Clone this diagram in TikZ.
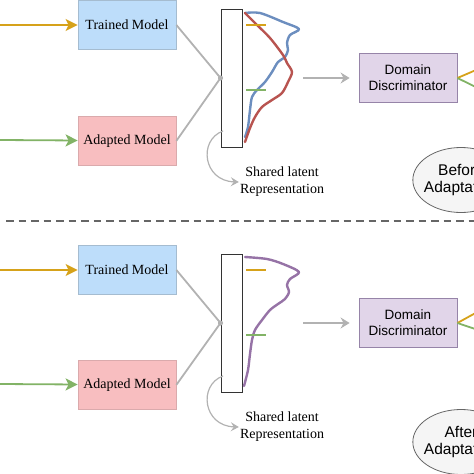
\documentclass[tikz,border=0pt]{standalone}
\usepackage{fontspec}
\setmainfont{Liberation Serif}
\setsansfont{Liberation Sans}
\usepackage{tikz}
\usetikzlibrary{arrows.meta,positioning,shapes.geometric,calc}
\definecolor{trainfill}{RGB}{189,221,250}
\definecolor{trainline}{RGB}{165,188,208}
\definecolor{adaptfill}{RGB}{248,190,192}
\definecolor{adaptline}{RGB}{218,170,172}
\definecolor{discfill}{RGB}{225,213,233}
\definecolor{discline}{RGB}{150,132,168}
\definecolor{inyellow}{RGB}{214,162,26}
\definecolor{ingreen}{RGB}{130,179,102}
\definecolor{curveblue}{RGB}{108,142,191}
\definecolor{curvered}{RGB}{184,84,80}
\definecolor{curvepurple}{RGB}{150,115,166}
\definecolor{linkgray}{RGB}{178,178,178}
\definecolor{dashgray}{RGB}{102,102,102}

\begin{document}
\begin{tikzpicture}[
  x=1pt, y=-1pt,
  font=\fontsize{14}{17}\selectfont,
  model/.style={draw, line width=0.8pt, minimum width=98pt, minimum height=49pt, inner sep=1pt},
  latent/.style={draw=black!80, line width=1pt, fill=white, minimum width=21pt, minimum height=138pt, inner sep=0pt},
  disc/.style={draw=discline, fill=discfill, line width=0.8pt, align=center, minimum width=98pt,
               minimum height=49pt, font=\sffamily\fontsize{13.5}{16}\selectfont},
  phase/.style={ellipse, draw=dashgray, fill=black!4, line width=0.8pt, align=center, inner ysep=0pt,
                inner xsep=-3pt, minimum width=96pt, minimum height=65pt,
                font=\sffamily\fontsize{15.5}{17}\selectfont},
  note/.style={align=center, inner sep=1pt},
  feed/.style={line width=1.8pt, -{Stealth[length=12pt, width=12pt, inset=3pt]}},
  merge/.style={line width=1.8pt, draw=linkgray},
  link/.style={line width=1.8pt, draw=linkgray, shorten >=9pt, -{Stealth[length=9pt, width=11pt, inset=3pt]}},
  curv/.style={line width=1.2pt, draw=linkgray, -{Stealth[length=8pt, width=9pt, inset=3pt]}},
  trace/.style={line width=2.4pt, line cap=round, line join=round},
  tick/.style={line width=1.8pt},
  divider/.style={line width=2.4pt, draw=dashgray, dash pattern=on 7.5pt off 5pt},
  ]
  \useasboundingbox (0,0) rectangle (474,474);
  \clip (0,0) rectangle (474,474);

  % before adaptation
  \node[model, fill=trainfill, draw=trainline] (tm1) at (127,25) {Trained Model};
  \node[model, fill=adaptfill, draw=adaptline, below=66pt of tm1] (am1) {Adapted Model};
  \node[latent] (lat1) at (231.5,78) {};
  \node[disc] (dd1) at (408,78) {Domain\\Discriminator};
  \node[phase] (be1) at (461,180) {Before\\Adaptation};
  \node[note] (sl1) at (282,182) {Shared latent\\Representation};
  \coordinate (iy1) at (0,25);
  \coordinate (ig1) at (0,140);
  \coordinate (g1) at (303,78);
  \coordinate (oy1) at (490,64);
  \coordinate (og1) at (490,94);
  \coordinate (cs1) at (223,131);
  \draw[feed, draw=inyellow] (iy1) -- (tm1);
  \draw[feed, draw=ingreen] (ig1) -- (am1);
  \draw[merge] (tm1.east) -- (lat1.west);
  \draw[merge] (am1.east) -- (lat1.west);
  \fill[linkgray] (lat1.west) circle (2.6);
  \draw[trace, curveblue] plot[smooth, tension=0.5] coordinates {(245,13) (260,13) (283,22) (299,29) (290,35) (287,43) (288,50) (285,57) (278,62) (272,72) (265,82) (257,90) (252,97) (250,110) (248,127) (245,137)};
  \draw[trace, curvered] plot[smooth, tension=0.5] coordinates {(245,13) (255,23) (270,38) (283,55) (287,63) (292,72) (288,82) (282,93) (272,100) (262,107) (255,117) (250,128) (245,142)};
  \draw[tick, inyellow] (246,25) -- (266,25);
  \draw[tick, ingreen] (246,90) -- (266,90);
  \draw[link] (g1) -- (dd1);
  \draw[tick, inyellow] (dd1.east) -- (oy1);
  \draw[tick, ingreen] (dd1.east) -- (og1);
  \draw[curv] (cs1) .. controls (198,140) and (203,181) .. (sl1.west);

  \draw[divider] (6,221) -- (474,221);

  % after adaptation
  \node[model, fill=trainfill, draw=trainline] (tm2) at (127,270) {Trained Model};
  \node[model, fill=adaptfill, draw=adaptline, below=65pt of tm2] (am2) {Adapted Model};
  \node[latent] (lat2) at (231.5,323) {};
  \node[disc] (dd2) at (408,323) {Domain\\Discriminator};
  \node[phase] (af2) at (461,442) {After\\Adaptation};
  \node[note] (sl2) at (282,427) {Shared latent\\Representation};
  \coordinate (iy2) at (0,270);
  \coordinate (ig2) at (0,384);
  \coordinate (g2) at (303,323);
  \coordinate (oy2) at (490,305);
  \coordinate (og2) at (490,334);
  \coordinate (cs2) at (223,376);
  \draw[feed, draw=inyellow] (iy2) -- (tm2);
  \draw[feed, draw=ingreen] (ig2) -- (am2);
  \draw[merge] (tm2.east) -- (lat2.west);
  \draw[merge] (am2.east) -- (lat2.west);
  \fill[linkgray] (lat2.west) circle (2.6);
  \draw[trace, curvepurple] plot[smooth, tension=0.5] coordinates {(245,257) (267,259) (283,264) (299,272) (290,279) (287,285) (289,292) (285,299) (278,304) (270,310) (262,320) (255,330) (252,340) (250,354) (248,370) (244,386)};
  \draw[tick, inyellow] (246,270) -- (266,270);
  \draw[tick, ingreen] (246,335) -- (266,335);
  \draw[link] (g2) -- (dd2);
  \draw[tick, inyellow] (dd2.east) -- (oy2);
  \draw[tick, ingreen] (dd2.east) -- (og2);
  \draw[curv] (cs2) .. controls (198,385) and (203,426) .. (sl2.west);
\end{tikzpicture}
\end{document}
